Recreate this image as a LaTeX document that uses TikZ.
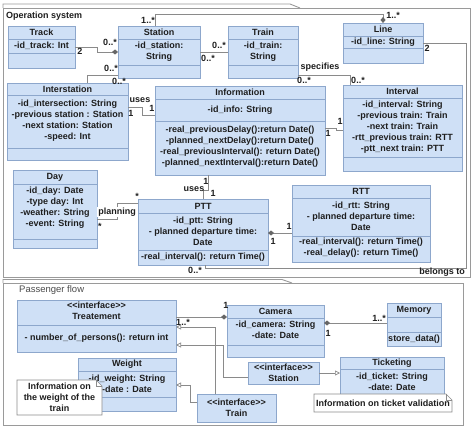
\documentclass[tikz,border=0pt]{standalone}
\usepackage{fontspec}
\setmainfont{Liberation Sans}
\usetikzlibrary{arrows.meta,calc}
\definecolor{clsfill}{HTML}{CFE0F6}
\definecolor{clsdraw}{HTML}{8DA7CC}
\definecolor{conncol}{HTML}{8A8A8A}
\definecolor{framecol}{HTML}{9A9A9A}
\definecolor{txtcol}{HTML}{1E1E1E}
\definecolor{diacol}{HTML}{666666}
\newcommand{\umlclass}[6]{%
  \node[cls, anchor=north west, minimum width={(#4)-(#2)}, minimum height={(#5)-(#3)}] (#1) at (#2,#3) {};
  \foreach \dd in {#6} {\draw[div] (#2,\dd) -- (#4,\dd);}
}
\newcommand{\iface}{{<}{<}interface{>}{>}}
\begin{document}
\begin{tikzpicture}[x=1pt,y=-1pt,
  cls/.style={draw=clsdraw, fill=clsfill, line width=0.8pt, rectangle, inner sep=0pt, outer sep=0pt},
  div/.style={draw=clsdraw, line width=0.8pt},
  txt/.style={font=\fontsize{9}{11}\selectfont\bfseries, text=txtcol, align=center, inner sep=0pt},
  lbl/.style={font=\fontsize{9}{11}\selectfont\bfseries, text=txtcol, inner sep=0pt},
  conn/.style={draw=conncol, line width=0.7pt},
  dia/.style={-{Diamond[length=6pt,width=5pt,fill=diacol,color=diacol]}},
  idia/.style={{Diamond[length=6pt,width=5pt,fill=diacol,color=diacol]}-},
  gen/.style={-{Triangle[open,length=5pt,width=5pt,fill=white,color=conncol]}},
  frame/.style={draw=framecol, line width=0.9pt},
  notebox/.style={draw=black!45, fill=white, line width=0.7pt}
]
\fill[white] (0,0) rectangle (474,428);
\useasboundingbox (0,0) rectangle (474,428);

% ---------- packages ----------
\draw[frame] (3,8) -- (3,4) -- (290,4) -- (300,8);
\draw[frame] (3,8) rectangle (470,277);
\node[lbl, anchor=west] (optitle) at (6,16) {Operation system};

\draw[frame] (3,283) -- (3,279.5) -- (282,279.5) -- (292,283);
\draw[frame] (3,283) rectangle (463,425);
\node[anchor=west, inner sep=0pt, text=black!70, font=\fontsize{9.5}{11}\selectfont] (pftitle) at (19,290) {Passenger flow};

% ---------- Operation system classes ----------
\umlclass{track}{8}{26}{75}{68}{39,53}
\node[txt] at (41.5,32.5) {Track};
\node[txt] at (41.5,46) {-id\_track: Int};

\umlclass{station}{118}{26}{200}{78}{39,65}
\node[txt] at (159,32.5) {Station};
\node[txt] at (159,52) {-id\_station:\\String};

\umlclass{train}{228}{26}{298}{78}{39,65}
\node[txt] at (263,32.5) {Train};
\node[txt] at (263,52) {-id\_train:\\String};

\umlclass{line}{343}{23}{423}{63}{36,48}
\node[txt] at (383,29.5) {Line};
\node[txt] at (383,42) {-id\_line: String};

\umlclass{interstation}{7}{83}{128}{160}{95,148}
\node[txt] at (67.5,89) {Interstation};
\node[txt] at (67.5,121) {-id\_intersection: String\\-previous station : Station\\-next station: Station\\-speed: Int};

\umlclass{information}{155}{86}{325}{175}{99,121}
\node[txt] at (240,92.5) {Information};
\node[txt] at (240,110) {-id\_info: String};
\node[txt] at (240,147) {-real\_previousDelay():return Date()\\-planned\_nextDelay():return Date()\\-real\_previousInterval(): return Date()\\-planned\_nextInterval():return Date()};

\umlclass{interval}{343}{85}{462}{171}{98,157}
\node[txt] at (402.5,91.5) {Interval};
\node[txt] at (402.5,127.5) {-id\_interval: String\\-previous train: Train\\-next train: Train\\-rtt\_previous train: RTT\\-ptt\_next train: PTT};

\umlclass{day}{13}{170}{97}{248}{184,239}
\node[txt] at (55,177) {Day};
\node[txt] at (55,207.5) {-id\_day: Date\\-type day: Int\\-weather: String\\-event: String};

\umlclass{ptt}{138}{199}{268}{265}{213,250}
\node[txt] at (203,206) {PTT};
\node[txt] at (203,231) {-id\_ptt: String\\- planned departure time:\\Date};
\node[txt] at (203,257.5) {-real\_interval(): return Time()};

\umlclass{rtt}{292}{185}{430}{262}{198,236}
\node[txt] at (361,191.5) {RTT};
\node[txt] at (361,216) {-id\_rtt: String\\- planned departure time:\\Date};
\node[txt] at (361,248) {-real\_interval(): return Time()\\-real\_delay(): return Time()};

% ---------- Operation system connectors ----------
\draw[conn,dia] (track.east) -- ++(22,0) |- (station.west);
\node[lbl] at (80,51) {2};
\node[lbl] at (110,42) {0..*};

\draw[conn] ($(interstation.north west)+(80,0)$) |- ($(station.south west)+(0,-3)$);
\node[lbl] at (111,68) {0..*};
\node[lbl] at (119,81) {0..*};

\draw[conn] (station.east) -- (train.west);
\node[lbl] at (208,58) {0..*};
\node[lbl] at (219,45) {0..*};

\draw[conn,dia] ($(station.north)+(-4,0)$) -- ++(0,-12) -| (line.north);
\node[lbl] at (148,20) {1..*};
\node[lbl] at (393,15) {1..*};

\draw[conn] ($(train.south east)+(0,-3)$) -| ($(interval.north west)+(7,0)$);
\node[lbl] at (320,67) {specifies};
\node[lbl] at (304,80) {0..*};
\node[lbl] at (358,80) {0..*};

\draw[conn] ($(interstation.north east)+(0,24)$) -- ++(14,0) |- ($(information.north west)+(0,29)$);
\node[lbl] at (140,100) {uses};
\node[lbl] at (131,113) {1};
\node[lbl] at (152,108) {1};

\draw[conn] ($(information.north east)+(0,42)$) -- ++(11,0) |- ($(interval.north west)+(0,45)$);
\node[lbl] at (340,121) {1};
\node[lbl] at (328,133) {1};

\draw[conn] ($(information.south west)+(53,0)$) -- ++(0,15) -| (ptt.north);
\node[lbl] at (206,181) {1};
\node[lbl] at (194,189) {uses};
\node[lbl] at (213,193) {1};

\draw[conn] ($(day.north east)+(0,49)$) -- ++(20,0) |- ($(ptt.north west)+(0,4)$);
\node[lbl, fill=white, inner sep=1pt] at (117,212) {planning};
\node[lbl] at (137,196) {*};
\node[lbl] at (100,226) {*};

\draw[conn,idia] ($(ptt.north east)+(0,34)$) -- ($(rtt.north west)+(0,48)$);
\node[lbl] at (289,226) {1};
\node[lbl] at (273,241) {1};

\coordinate (bt) at (466,268);
\draw[conn] ($(ptt.south west)+(67,0)$) |- (bt) |- ($(line.north east)+(0,20)$);
\node[lbl] at (195,270) {0..*};
\node[lbl] at (427,48) {2};
\node[lbl] at (442,272.5) {belongs to};

% ---------- Passenger flow classes ----------
\umlclass{treatement}{17}{300}{176}{352}{325}
\node[txt] at (96.5,311) {\iface\\Treatement};
\node[txt] at (96.5,338) {- number\_of\_persons(): return int};

\umlclass{camera}{227}{305}{324}{357}{318,345}
\node[txt] at (275.5,311) {Camera};
\node[txt] at (275.5,329.5) {-id\_camera: String\\-date: Date};

\umlclass{memory}{387}{303}{441}{346}{317,332}
\node[txt] at (414,310) {Memory};
\node[txt] at (414,339) {store\_data()};

\umlclass{weight}{78}{358}{176}{411}{371,397}
\node[txt] at (127,364.5) {Weight};
\node[txt] at (127,383.5) {-id\_weight: String\\-date : Date};

\umlclass{stationif}{248}{362}{319}{384}{}
\node[txt] at (283.5,373) {\iface\\Station};

\umlclass{trainif}{197}{394}{276}{422}{}
\node[txt] at (236.5,408) {\iface\\Train};

\umlclass{ticketing}{340}{357}{444}{399}{369}
\node[txt] at (392,363) {Ticketing};
\node[txt] at (392,381.5) {-id\_ticket: String\\-date: Date};

% notes
\draw[notebox] (17,380) -- (96,380) -- (102,386) -- (102,415) -- (17,415) -- cycle;
\draw[draw=black!45, line width=0.6pt] (96,380) -- (96,386) -- (102,386);
\node[txt] (note1) at (59.5,397) {Information on\\the weight of the\\train};

\draw[notebox] (314,394) -- (446,394) -- (452,400) -- (452,412) -- (314,412) -- cycle;
\draw[draw=black!45, line width=0.6pt] (446,394) -- (446,400) -- (452,400);
\node[txt] (note2) at (383,403.5) {Information on ticket validation};

% ---------- Passenger flow connectors ----------
\draw[conn,dia] ($(treatement.north east)+(0,17)$) -- ($(camera.north west)+(0,12)$);
\node[lbl] at (226,305) {1};
\node[lbl] at (183,322) {1..*};

\draw[conn,gen] ($(trainif.north west)+(18,0)$) |- ($(treatement.north east)+(0,27)$);
\draw[conn,gen] ($(stationif.north west)+(0,15)$) -- ++(-25,0) |- ($(treatement.north east)+(0,45)$);
\draw[conn,gen] ($(stationif.north east)+(0,11)$) -- ($(ticketing.north west)+(0,16)$);
\draw[conn,gen] ($(trainif.north west)+(0,8)$) -- ++(-7,0) |- ($(weight.north east)+(0,27)$);

\draw[conn,idia] ($(camera.north east)+(0,18)$) -- ($(memory.north west)+(0,20)$);
\node[lbl] at (328,333) {1};
\node[lbl] at (379,318) {1..*};
\end{tikzpicture}
\end{document}
